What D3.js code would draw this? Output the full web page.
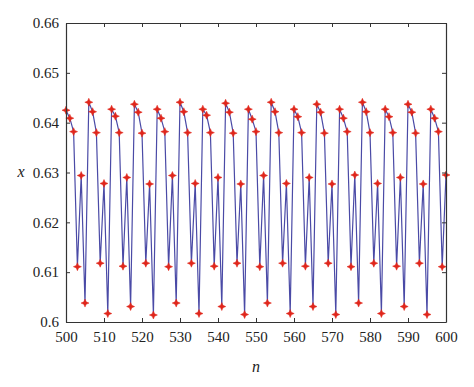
<!DOCTYPE html>
<html>
<head>
<meta charset="utf-8">
<script src="https://cdn.jsdelivr.net/npm/d3@7"></script>
<style>
  body { margin: 0; background: #fff; }
  svg text { font-family: "Liberation Serif", "Times New Roman", Times, serif; fill: #222; }
</style>
</head>
<body>
<svg id="chart" width="474" height="387"></svg>
<script>
// x(n), n = 500 .. 600
const nStart = 500;
const xValues = [
  0.6425, 0.6409, 0.6382, 0.6111, 0.6294, 0.6038, 0.6441, 0.6422, 0.6380, 0.6118, 0.6278, 0.6017,
  0.6427, 0.6413, 0.6380, 0.6112, 0.6290, 0.6031, 0.6437, 0.6421, 0.6379, 0.6118, 0.6277, 0.6014,
  0.6427, 0.6409, 0.6382, 0.6111, 0.6294, 0.6038, 0.6441, 0.6422, 0.6380, 0.6118, 0.6278, 0.6017,
  0.6427, 0.6415, 0.6380, 0.6112, 0.6290, 0.6031, 0.6439, 0.6421, 0.6379, 0.6118, 0.6277, 0.6015,
  0.6427, 0.6407, 0.6382, 0.6111, 0.6294, 0.6038, 0.6441, 0.6422, 0.6380, 0.6118, 0.6278, 0.6017,
  0.6427, 0.6412, 0.6380, 0.6112, 0.6290, 0.6031, 0.6437, 0.6421, 0.6379, 0.6118, 0.6277, 0.6015,
  0.6427, 0.6409, 0.6382, 0.6111, 0.6295, 0.6038, 0.6441, 0.6422, 0.6380, 0.6118, 0.6278, 0.6017,
  0.6427, 0.6412, 0.6380, 0.6112, 0.6290, 0.6031, 0.6437, 0.6421, 0.6379, 0.6118, 0.6277, 0.6015,
  0.6427, 0.6409, 0.6382, 0.6111, 0.6295
];
const xTicks = [500, 510, 520, 530, 540, 550, 560, 570, 580, 590, 600];
const yTicks = [0.6, 0.61, 0.62, 0.63, 0.64, 0.65, 0.66];

const data = xValues.map((v, i) => ({ n: nStart + i, x: v }));

const margin = { top: 23, right: 28, bottom: 65, left: 66 };
const width = 474, height = 387;
const svg = d3.select('#chart');

const xScale = d3.scaleLinear().domain([500, 600]).range([margin.left, width - margin.right]);
const yScale = d3.scaleLinear().domain([0.6, 0.66]).range([height - margin.bottom, margin.top]);

const axisColor = '#333';
const tickLen = 4;
const serif = '"Liberation Serif", "Times New Roman", Times, serif';

/* Line */
const line = d3.line().x(d => xScale(d.n)).y(d => yScale(d.x));
svg.append('path')
  .datum(data)
  .attr('d', line)
  .attr('fill', 'none')
  .attr('stroke', '#4a4aa6')
  .attr('stroke-width', 1.2)
  .attr('stroke-linejoin', 'round');

/* Markers: small 4-point star */
const star4 = {
  draw(ctx, size) {
    const r = Math.sqrt(size) / 2, q = r * 0.3;
    ctx.moveTo(0, -r);
    ctx.lineTo(q, -q);
    ctx.lineTo(r, 0);
    ctx.lineTo(q, q);
    ctx.lineTo(0, r);
    ctx.lineTo(-q, q);
    ctx.lineTo(-r, 0);
    ctx.lineTo(-q, -q);
    ctx.closePath();
  }
};
svg.append('g')
  .selectAll('path')
  .data(data)
  .enter()
  .append('path')
  .attr('d', d3.symbol().type(star4).size(64))
  .attr('transform', d => 'translate(' + xScale(d.n) + ',' + yScale(d.x) + ')')
  .attr('fill', '#e0261b')
  .attr('stroke', '#e0261b')
  .attr('stroke-width', 0.5);

/* Axes: bottom/left with labels, top/right ticks only, all ticks inward */
const fmtY = v => d3.format('.2f')(v).replace(/0$/, '');

const gx = svg.append('g')
  .attr('transform', 'translate(0,' + yScale(0.6) + ')')
  .call(d3.axisBottom(xScale).tickValues(xTicks).tickSize(-tickLen).tickSizeOuter(0).tickPadding(9));
const gxTop = svg.append('g')
  .attr('transform', 'translate(0,' + yScale(0.66) + ')')
  .call(d3.axisTop(xScale).tickValues(xTicks).tickSize(-tickLen).tickSizeOuter(0).tickFormat(''));
const gy = svg.append('g')
  .attr('transform', 'translate(' + xScale(500) + ',0)')
  .call(d3.axisLeft(yScale).tickValues(yTicks).tickSize(-tickLen).tickSizeOuter(0).tickPadding(7).tickFormat(fmtY));
const gyRight = svg.append('g')
  .attr('transform', 'translate(' + xScale(600) + ',0)')
  .call(d3.axisRight(yScale).tickValues(yTicks).tickSize(-tickLen).tickSizeOuter(0).tickFormat(''));

[gx, gxTop, gy, gyRight].forEach(g => {
  g.attr('font-family', serif);
  g.select('.domain').attr('stroke', axisColor).attr('stroke-width', 1.2);
  g.selectAll('.tick line').attr('stroke', axisColor);
  g.selectAll('.tick text')
    .attr('font-family', serif)
    .attr('font-size', 15)
    .attr('fill', '#222');
});

/* Axis titles */
svg.append('text')
  .attr('x', (xScale(500) + xScale(600)) / 2)
  .attr('y', 372)
  .attr('text-anchor', 'middle')
  .attr('font-style', 'italic')
  .attr('font-size', 16)
  .text('n');

svg.append('text')
  .attr('x', 21)
  .attr('y', yScale(0.63) + 4)
  .attr('text-anchor', 'middle')
  .attr('font-style', 'italic')
  .attr('font-size', 16)
  .text('x');
</script>
</body>
</html>
